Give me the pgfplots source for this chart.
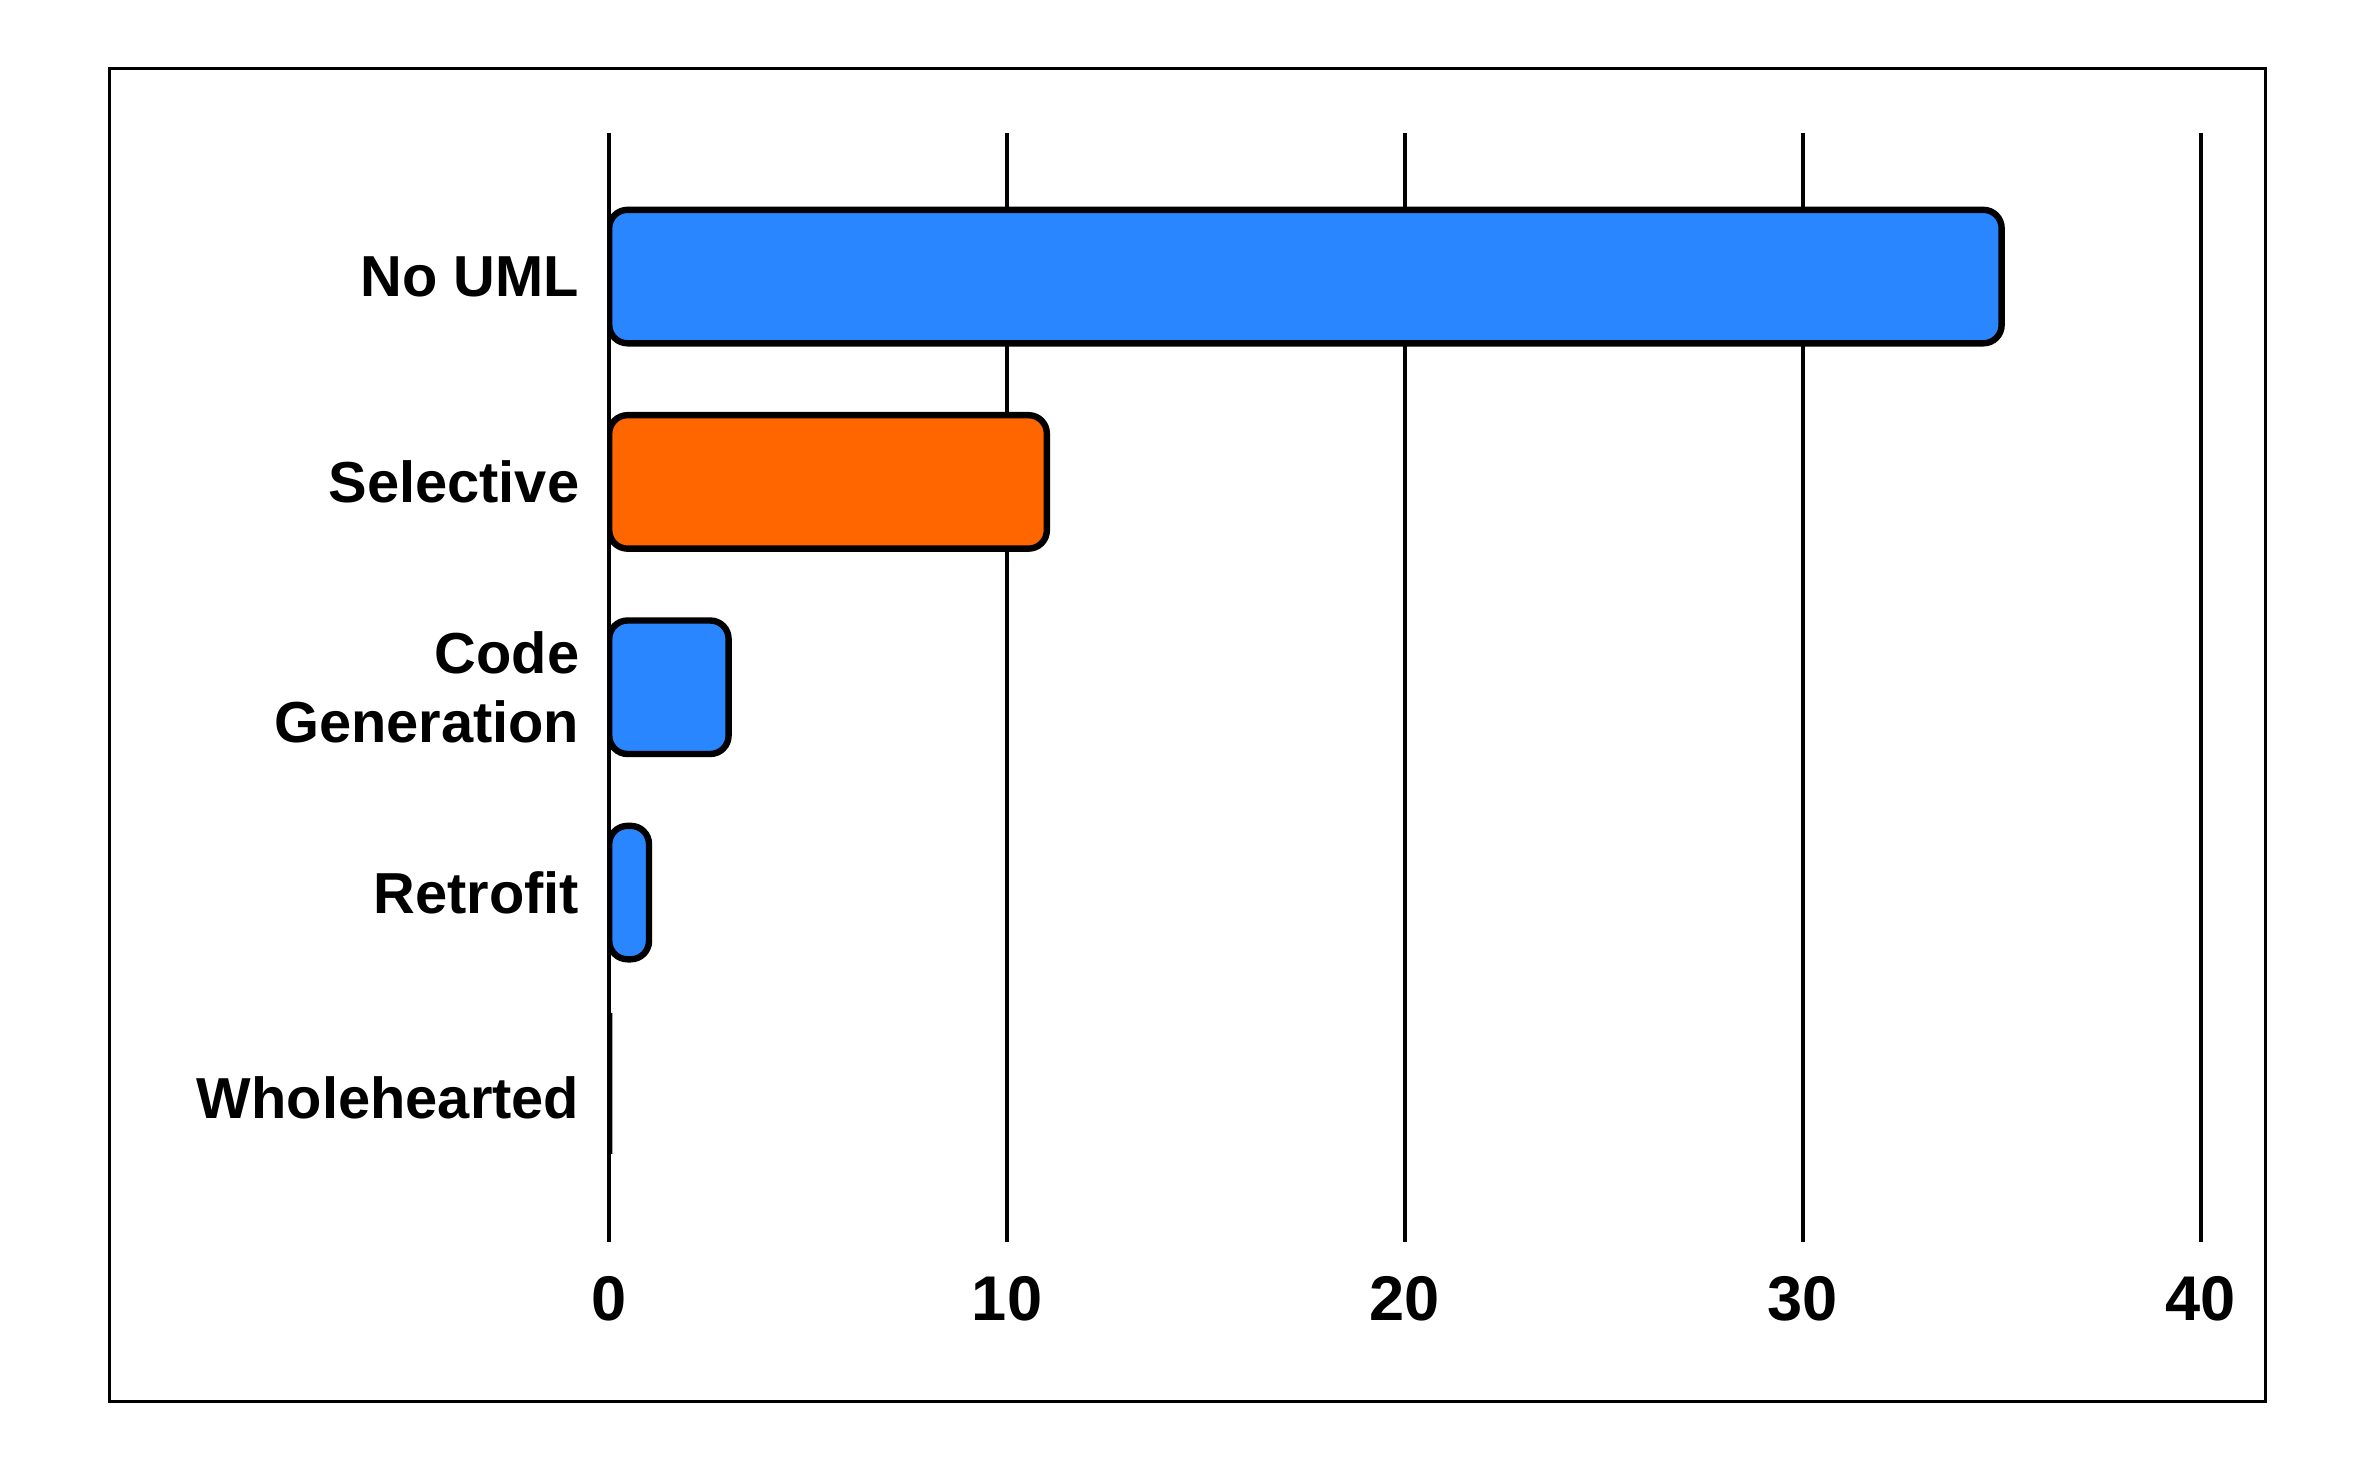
\documentclass[border=0pt]{standalone}
\usepackage{fontspec}
\setmainfont{Liberation Sans}
\usepackage{pgfplots}
\pgfplotsset{compat=1.18}
\definecolor{barblue}{HTML}{2A86FF}
\definecolor{barorange}{HTML}{FF6600}
\begin{document}
\begin{tikzpicture}
\path[use as bounding box] (0,0) rectangle (156mm,96.52mm);
\draw[line width=0.2mm] (7.16mm,4.48mm) rectangle (148.76mm,92.04mm);
\begin{axis}[
  at={(40.0mm,15.0mm)}, anchor=south west,
  scale only axis, width=104.48mm, height=72.8mm,
  xmin=0, xmax=40, ymin=-0.7, ymax=4.7, y dir=reverse,
  xtick={0,10,20,30,40},
  ytick={0,1,2,3,4},
  yticklabels={No UML,Selective,{Code\\Generation},Retrofit,Wholehearted},
  axis line style={draw=none},
  major tick length=0pt,
  xmajorgrids, ymajorgrids=false,
  grid style={black, line width=0.27mm},
  /pgf/number format/assume math mode=true,
  yticklabel style={font=\fontsize{10.8}{12.8}\selectfont\bfseries, align=right, inner sep=0pt, anchor=east, xshift=-1.9mm},
  xticklabel style={font=\fontsize{11.8}{13}\selectfont\bfseries, inner sep=0pt, anchor=north, yshift=-2.2mm},
  xbar, bar width=0.65,
  every axis plot/.append style={bar shift=0pt},
]
\addplot[fill=barblue, draw=black, line width=0.42mm, rounded corners=1.2mm] coordinates {(35,0) (3,2) (1,3) (0,4)};
\addplot[fill=barorange, draw=black, line width=0.42mm, rounded corners=1.2mm] coordinates {(11,1)};
\end{axis}
\end{tikzpicture}
\end{document}
